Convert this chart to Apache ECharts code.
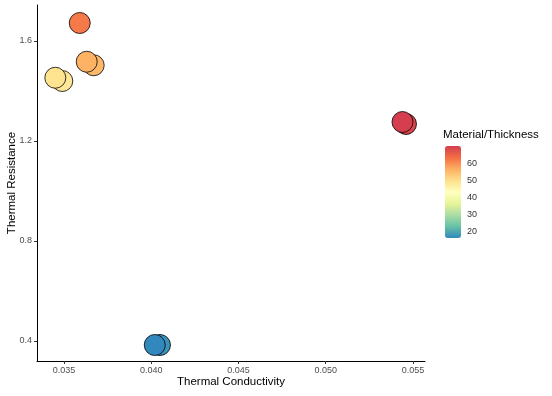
<!DOCTYPE html>
<html>
<head>
<meta charset="utf-8">
<script src="https://cdn.jsdelivr.net/npm/echarts@6/dist/echarts.min.js"></script>
<style>
  html, body { margin: 0; padding: 0; background: #fff; }
  #main { width: 552px; height: 396px; }
</style>
</head>
<body>
<div id="main"></div>
<script>
// data (back ones first so the front ones overlap them)
var conductivity = [0.0546, 0.0544, 0.0405, 0.0402, 0.0367, 0.0363, 0.0359, 0.0349, 0.0345];
var resistance   = [1.268, 1.276, 0.384, 0.384, 1.503, 1.517, 1.672, 1.440, 1.453];
var thickness    = [69, 70, 17, 16, 55, 56, 62, 48, 49];

var xTicks = [0.035, 0.040, 0.045, 0.050, 0.055];
var yTicks = [0.4, 0.8, 1.2, 1.6];
var legendTicks = [20, 30, 40, 50, 60];

var spectral = ['#3288bd', '#66c2a5', '#abdda4', '#e6f598', '#ffffbf', '#fee08b', '#fdae61', '#f46d43', '#d53e4f'];

var points = [];
for (var i = 0; i < conductivity.length; i++) {
    points.push([conductivity[i], resistance[i], thickness[i]]);
}

var myChart = echarts.init(document.getElementById('main'));
var option = {
    backgroundColor: '#fff',
    textStyle: { fontFamily: 'Liberation Sans' },
    grid: [
        { left: 37, right: 127, top: 5, bottom: 35, containLabel: false, outerBoundsMode: 'none' },
        { left: 445, top: 146, width: 16, height: 92, containLabel: false, outerBoundsMode: 'none' }
    ],
    xAxis: [
        {
            type: 'value', min: 0.03345, max: 0.05569,
            name: 'Thermal Conductivity', nameLocation: 'middle', nameGap: 15, nameMoveOverlap: false,
            nameTextStyle: { color: '#000', fontSize: 11.5 },
            axisLine: { lineStyle: { color: '#000', width: 1 } },
            axisTick: { customValues: xTicks, length: 3, lineStyle: { color: '#333' } },
            axisLabel: { customValues: xTicks, color: '#4d4d4d', fontSize: 9, margin: 5,
                formatter: function (v) { return v.toFixed(3); } },
            splitLine: { show: false }
        },
        { gridIndex: 1, type: 'value', show: false }
    ],
    yAxis: [
        {
            type: 'value', min: 0.32, max: 1.744,
            name: 'Thermal Resistance', nameLocation: 'middle', nameGap: 19, nameMoveOverlap: false,
            nameTextStyle: { color: '#000', fontSize: 11.5 },
            axisLine: { show: true, lineStyle: { color: '#000', width: 1 } },
            axisTick: { show: true, customValues: yTicks, length: 3, lineStyle: { color: '#333' } },
            axisLabel: { customValues: yTicks, color: '#4d4d4d', fontSize: 9, margin: 5,
                formatter: function (v) { return v.toFixed(1); } },
            splitLine: { show: false }
        },
        {
            gridIndex: 1, type: 'value', min: 16, max: 70, position: 'right',
            axisLine: { show: false },
            axisTick: { show: true, inside: true, customValues: legendTicks, length: 3,
                lineStyle: { color: '#fff', width: 1 } },
            axisLabel: { customValues: legendTicks, color: '#333', fontSize: 9, margin: 6 },
            splitLine: { show: false }
        }
    ],
    visualMap: {
        type: 'continuous', min: 16, max: 70, dimension: 2, seriesIndex: 0,
        left: 445, top: 146, itemWidth: 16, itemHeight: 92, padding: 0,
        calculable: false, text: null,
        inRange: { color: spectral }
    },
    graphic: [
        { type: 'text', left: 443, top: 129,
          style: { text: 'Material/Thickness', fill: '#000', fontSize: 11.5, fontFamily: 'Liberation Sans' } }
    ],
    series: [
        {
            type: 'scatter',
            data: points,
            symbolSize: 21,
            itemStyle: { opacity: 1, borderColor: '#000', borderWidth: 0.8 }
        }
    ]
};
myChart.setOption(option);
</script>
</body>
</html>
